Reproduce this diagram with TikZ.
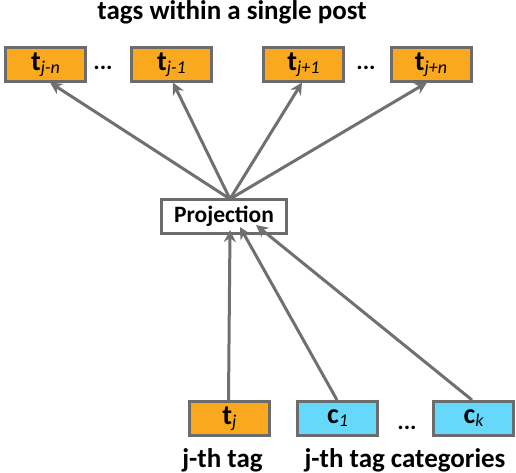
\documentclass[tikz,border=0pt]{standalone}
\usepackage{fontspec}
\setmainfont{Carlito}
\usetikzlibrary{arrows.meta}
\definecolor{orng}{RGB}{250,168,30}
\definecolor{cyanb}{RGB}{102,217,250}
\definecolor{bordg}{RGB}{108,108,108}
\definecolor{arrg}{RGB}{112,112,112}
\newcommand{\tsub}[2]{{\fontsize{28}{28}\selectfont\bfseries #1}\raisebox{-3pt}{\fontsize{18}{18}\selectfont\itshape #2}}
\begin{document}
\begin{tikzpicture}[x=1pt,y=-1pt,
  tagbox/.style={draw=bordg,line width=3pt,fill=orng,minimum width=80pt,minimum height=34pt,inner sep=0pt},
  catbox/.style={draw=bordg,line width=3pt,fill=cyanb,minimum width=80pt,minimum height=34pt,inner sep=0pt},
  projbox/.style={draw=bordg,line width=3pt,fill=white,minimum width=125pt,minimum height=34pt,inner sep=0pt,font=\fontsize{23.5}{23.5}\selectfont\bfseries},
  lbl/.style={font=\fontsize{27}{27}\selectfont\bfseries,inner sep=0pt},
  dots/.style={font=\fontsize{24}{24}\selectfont\bfseries,inner sep=0pt},
  arr/.style={draw=arrg,line width=3pt,-{Stealth[length=12pt,width=12pt]}}]
\useasboundingbox (0,0) rectangle (516,473);
\node[lbl] (title) at (232,12) {tags within a single post};
\node[tagbox] (tjn) at (45.5,65) {\tsub{t}{j-n}};
\node[dots] (d1) at (103,68) {...};
\node[tagbox] (tj1) at (171.5,65) {\tsub{t}{j-1}};
\node[tagbox] (tjp1) at (303.5,65) {\tsub{t}{j+1}};
\node[dots] (d2) at (366,68) {...};
\node[tagbox] (tjpn) at (431,65) {\tsub{t}{j+n}};
\node[projbox] (proj) at (224,216.5) {Projection};
\node[tagbox] (tj) at (229.5,418.5) {\tsub{t}{j}};
\node[catbox] (c1) at (337.5,418.5) {\tsub{c}{1}};
\node[dots] (d3) at (407,428) {...};
\node[catbox] (ck) at (473.5,418.5) {\tsub{c}{k}};
\node[lbl] (l1) at (222.5,460) {j-th tag};
\node[lbl] (l2) at (405,460) {j-th tag categories};
\coordinate (ptop) at ([xshift=6pt,yshift=-1pt]proj.north);
\draw[arr] (ptop) -- ([xshift=4.5pt,yshift=1pt]tjn.south);
\draw[arr] (ptop) -- ([xshift=1.5pt,yshift=1pt]tj1.south);
\draw[arr] (ptop) -- ([xshift=-1.5pt,yshift=1pt]tjp1.south);
\draw[arr] (ptop) -- ([xshift=-4pt,yshift=1pt]tjpn.south);
\draw[arr] ([xshift=-1pt]tj.north) -- ([xshift=6pt,yshift=5pt]proj.south);
\draw[arr] ([xshift=-0.5pt]c1.north) -- ([xshift=16pt,yshift=8pt]proj.south);
\draw[arr] ([xshift=-1.5pt]ck.north) -- ([xshift=32pt,yshift=10pt]proj.south);
\end{tikzpicture}
\end{document}
